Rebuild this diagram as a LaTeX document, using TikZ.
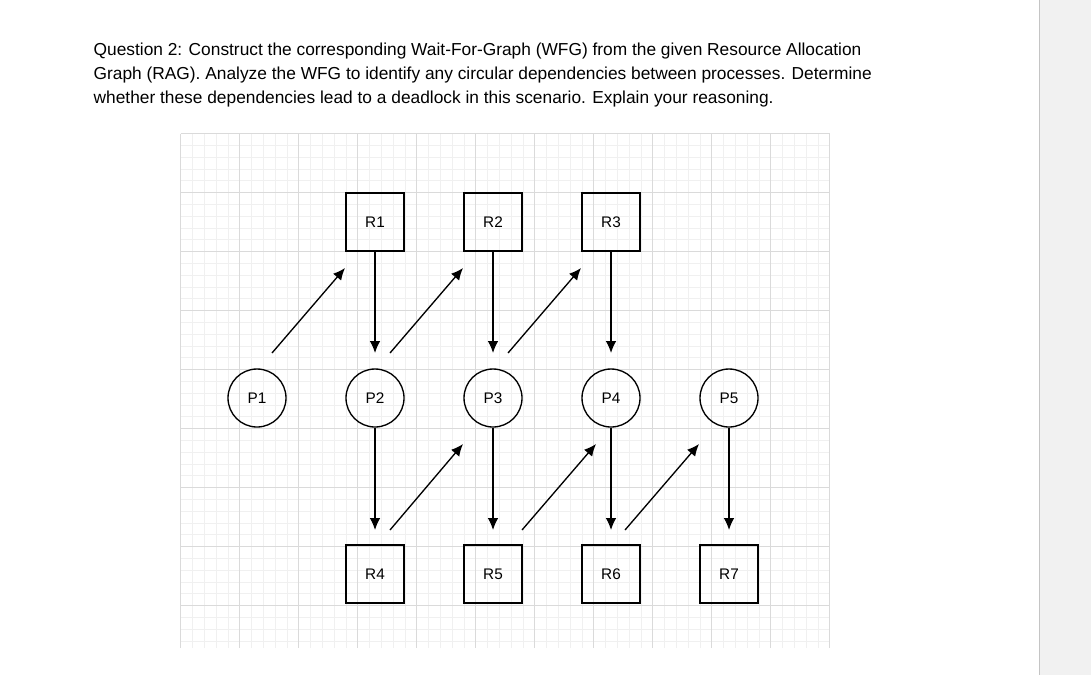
\documentclass[tikz,border=0pt]{standalone}
\usepackage{fontspec}
\setmainfont{Liberation Sans}
\usetikzlibrary{arrows.meta}
\definecolor{minorgrid}{HTML}{F0F0F0}
\definecolor{majorgrid}{HTML}{DADADA}
\definecolor{panel}{HTML}{F1F1F1}
\definecolor{panelline}{HTML}{C4C4C4}
\tikzset{
  res/.style={shape=rectangle, draw=black, minimum size=43.5pt, inner sep=0pt, font=\fontsize{11.5}{13}\selectfont},
  proc/.style={shape=circle, draw=black, minimum size=43.5pt, inner sep=0pt, font=\fontsize{11.5}{13}\selectfont},
  txt/.style={anchor=base west, inner sep=0pt, font=\fontsize{13}{15}\selectfont},
  arr/.style={-{Latex[length=9pt,width=8pt]}, line width=1pt}
}
\begin{document}
\begin{tikzpicture}[x=0.75pt, y=-0.75pt, line width=1pt]
    \useasboundingbox (0,0) rectangle (1091,675);
    \fill[panel] (1040,0) rectangle (1091,675);
    \draw[panelline, line width=1pt] (1039.5,0) -- (1039.5,675);
    % grid
    \foreach \i in {0,...,55} \draw[minorgrid, line width=0.6pt] (180.8+11.8*\i,133.6) -- (180.8+11.8*\i,648);
    \foreach \j in {0,...,43} \draw[minorgrid, line width=0.6pt] (180.8,133.6+11.8*\j) -- (829.8,133.6+11.8*\j);
    \foreach \i in {0,...,11} \draw[majorgrid, line width=0.6pt] (180.8+59*\i,133.6) -- (180.8+59*\i,648);
    \foreach \j in {0,...,8} \draw[majorgrid, line width=0.6pt] (180.8,133.6+59*\j) -- (829.8,133.6+59*\j);
    % question
    \node[txt] (q1) at (93,55) {Question 2: Construct the corresponding Wait-For-Graph (WFG) from the given Resource Allocation};
    \node[txt] (q2) at (93,79) {Graph (RAG). Analyze the WFG to identify any circular dependencies between processes. Determine};
    \node[txt] (q3) at (93,103) {whether these dependencies lead to a deadlock in this scenario. Explain your reasoning.};
    % resources
    \node[res] at (375,222) (R1) {R1};
    \node[res] at (493,222) (R2) {R2};
    \node[res] at (611,222) (R3) {R3};
    \node[res] at (375,574) (R4) {R4};
    \node[res] at (493,574) (R5) {R5};
    \node[res] at (611,574) (R6) {R6};
    \node[res] at (729,574) (R7) {R7};
    % processes
    \node[proc] at (257,398) (P1) {P1};
    \node[proc] at (375,398) (P2) {P2};
    \node[proc] at (493,398) (P3) {P3};
    \node[proc] at (611,398) (P4) {P4};
    \node[proc] at (729,398) (P5) {P5};
    % free ends
    \coordinate (a1) at (272,353); \coordinate (b1) at (345,268);
    \coordinate (a2) at (390,353); \coordinate (b2) at (463,268);
    \coordinate (a3) at (508,353); \coordinate (b3) at (581,268);
    \coordinate (c1) at (375,353); \coordinate (c2) at (493,353); \coordinate (c3) at (611,353);
    \coordinate (d2) at (375,530); \coordinate (d3) at (493,530); \coordinate (d4) at (611,530); \coordinate (d5) at (729,530);
    \coordinate (e1) at (390,530); \coordinate (f1) at (463,444);
    \coordinate (e2) at (522,530); \coordinate (f2) at (596,444);
    \coordinate (e3) at (625,530); \coordinate (f3) at (699,444);
    \path [arr] (R1) edge (c1);
    \path [arr] (R2) edge (c2);
    \path [arr] (R3) edge (c3);
    \path [arr] (a1) edge (b1);
    \path [arr] (a2) edge (b2);
    \path [arr] (a3) edge (b3);
    \path [arr] (P2) edge (d2);
    \path [arr] (P3) edge (d3);
    \path [arr] (P4) edge (d4);
    \path [arr] (P5) edge (d5);
    \path [arr] (e1) edge (f1);
    \path [arr] (e2) edge (f2);
    \path [arr] (e3) edge (f3);
\end{tikzpicture}
\end{document}
